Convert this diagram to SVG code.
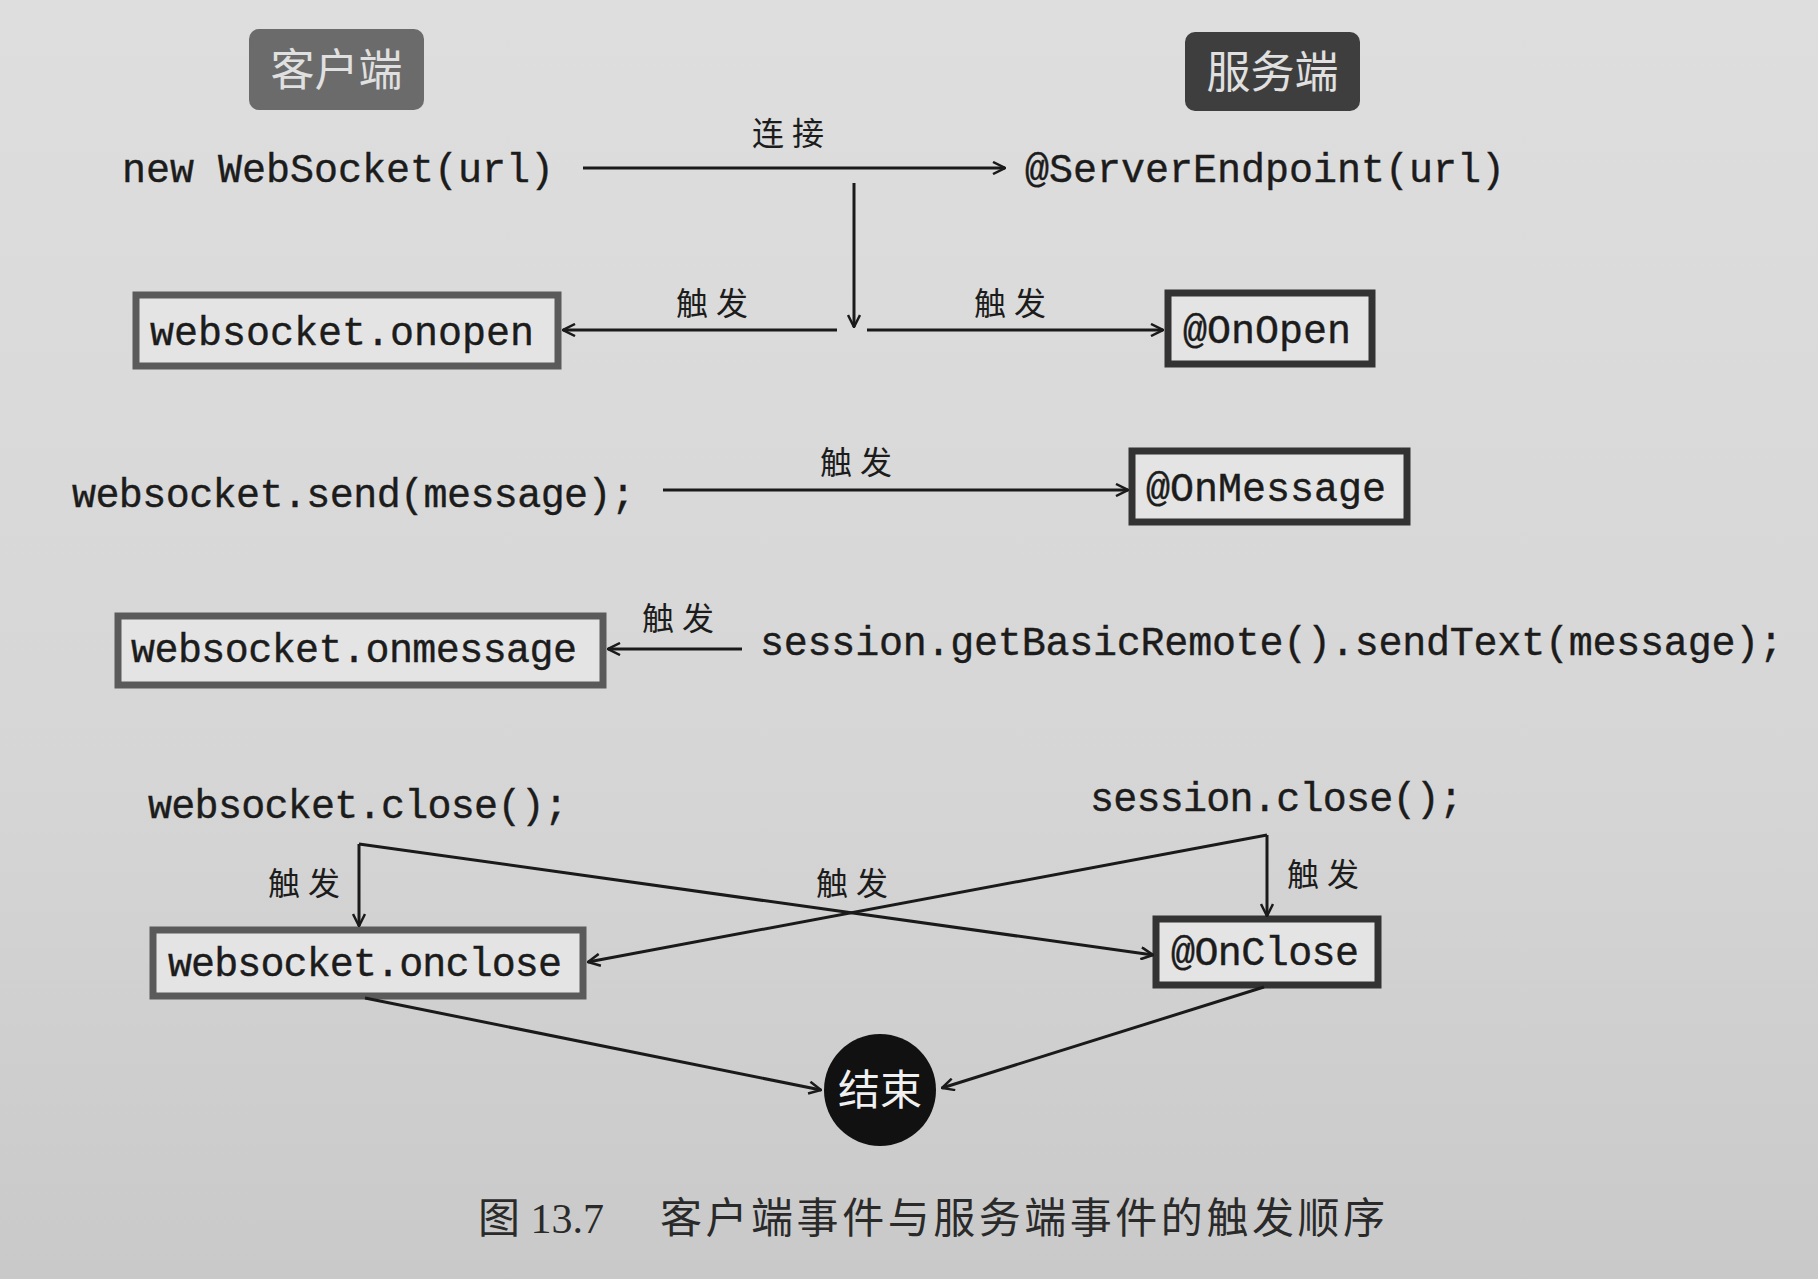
<svg xmlns="http://www.w3.org/2000/svg" width="1818" height="1279" viewBox="0 0 1818 1279">
<defs>
<linearGradient id="bg" x1="0" y1="0" x2="0" y2="1">
<stop offset="0" stop-color="#dedede"/>
<stop offset="0.6" stop-color="#d6d6d6"/>
<stop offset="1" stop-color="#c9c9c9"/>
</linearGradient>
<marker id="arr" viewBox="0 0 14 14" refX="13" refY="7" markerWidth="14" markerHeight="14" markerUnits="userSpaceOnUse" orient="auto">
<path d="M1,1 L13,7 L1,13" fill="none" stroke="#1a1a1a" stroke-width="2.5"/>
</marker>
<style>
.code{font-family:"Liberation Mono","DejaVu Sans Mono",monospace;font-size:40px;fill:#1c1c1c;stroke:#1c1c1c;stroke-width:0.4}
.lbl{font-family:"Noto Sans CJK SC",sans-serif;font-size:32px;fill:#1c1c1c;letter-spacing:8px}
.box{fill:#e4e4e4;stroke:#5a5a5a;stroke-width:7}
.boxd{fill:#e4e4e4;stroke:#333;stroke-width:7}
.ln{stroke:#1a1a1a;stroke-width:3;fill:none;marker-end:url(#arr)}
.hdr{font-family:"Noto Sans CJK SC",sans-serif;font-size:44px;fill:#e0e0e0;text-anchor:middle}
</style>
</defs>
<rect width="1818" height="1279" fill="url(#bg)"/>

<g id="client-header">
<rect x="249" y="29" width="175" height="81" rx="10" fill="#6b6b6b"/>
<text class="hdr" x="336.5" y="86">客户端</text>
</g>
<g id="server-header">
<rect x="1185" y="32" width="175" height="79" rx="10" fill="#3e3e3e"/>
<text class="hdr" x="1272.5" y="88">服务端</text>
</g>

<g id="new-websocket"><text class="code" x="122" y="182">new WebSocket(url)</text></g>
<g id="server-endpoint"><text class="code" x="1025" y="182">@ServerEndpoint(url)</text></g>

<g id="ws-onopen">
<rect class="box" x="136" y="295" width="422" height="71"/>
<text class="code" x="150" y="345">websocket.onopen</text>
</g>
<g id="onopen">
<rect class="boxd" x="1168" y="293" width="204" height="71"/>
<text class="code" x="1183" y="343">@OnOpen</text>
</g>

<g id="ws-send"><text class="code" x="72" y="507" textLength="563">websocket.send(message);</text></g>
<g id="onmessage">
<rect class="boxd" x="1132" y="451" width="275" height="71"/>
<text class="code" x="1146" y="501">@OnMessage</text>
</g>

<g id="ws-onmessage">
<rect class="box" x="118" y="616" width="485" height="69"/>
<text class="code" x="131" y="662" textLength="446">websocket.onmessage</text>
</g>
<g id="session-send"><text class="code" x="760" y="655" textLength="1023">session.getBasicRemote().sendText(message);</text></g>

<g id="ws-close"><text class="code" x="148" y="818" textLength="420">websocket.close();</text></g>
<g id="session-close"><text class="code" x="1090" y="811" textLength="373">session.close();</text></g>

<g id="ws-onclose">
<rect class="box" x="153" y="930" width="430" height="66"/>
<text class="code" x="168" y="976" textLength="394">websocket.onclose</text>
</g>
<g id="onclose">
<rect class="boxd" x="1156" y="919" width="222" height="66"/>
<text class="code" x="1171" y="965" textLength="188">@OnClose</text>
</g>

<g id="end">
<circle cx="880" cy="1090" r="56" fill="#111"/>
<text x="880" y="1105" font-family="Noto Sans CJK SC,sans-serif" font-size="42" fill="#f0f0f0" text-anchor="middle">结束</text>
</g>

<g id="connectors">
<line class="ln" x1="583" y1="168" x2="1005" y2="168"/>
<line class="ln" x1="854" y1="183" x2="854" y2="327"/>
<line class="ln" x1="837" y1="330" x2="563" y2="330"/>
<line class="ln" x1="867" y1="330" x2="1163" y2="330"/>
<line class="ln" x1="663" y1="490" x2="1128" y2="490"/>
<line class="ln" x1="742" y1="649" x2="608" y2="649"/>
<polyline class="ln" points="359,844 359,926"/>
<polyline class="ln" points="359,844 1153,955"/>
<polyline class="ln" points="1267,835 1267,916"/>
<polyline class="ln" points="1267,835 588,962"/>
<line class="ln" x1="365" y1="998" x2="821" y2="1090"/>
<line class="ln" x1="1264" y1="987" x2="942" y2="1088"/>
</g>

<g id="labels">
<text class="lbl" x="752" y="145">连接</text>
<text class="lbl" x="676" y="315">触发</text>
<text class="lbl" x="974" y="315">触发</text>
<text class="lbl" x="820" y="474">触发</text>
<text class="lbl" x="642" y="630">触发</text>
<text class="lbl" x="268" y="895">触发</text>
<text class="lbl" x="816" y="895">触发</text>
<text class="lbl" x="1287" y="886">触发</text>
</g>

<g id="caption">
<text x="478" y="1233" font-family="Liberation Serif,Noto Sans CJK SC,serif" font-size="42" fill="#2a2a2a">图 13.7</text>
<text x="660" y="1233" font-family="Noto Sans CJK SC,sans-serif" font-size="42" fill="#2a2a2a" textLength="725">客户端事件与服务端事件的触发顺序</text>
</g>
</svg>
